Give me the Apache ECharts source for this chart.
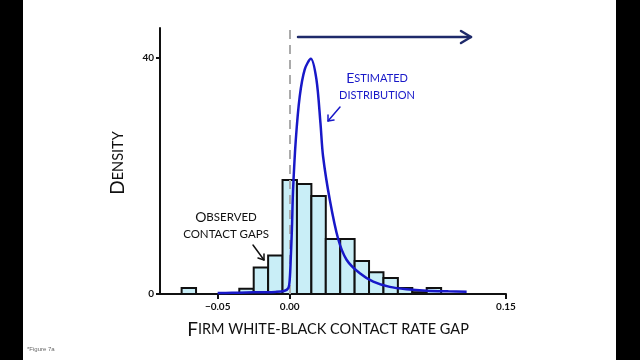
<!DOCTYPE html>
<html>
<head>
<meta charset="utf-8">
<script src="https://cdn.jsdelivr.net/npm/echarts@6/dist/echarts.min.js"></script>
<style>html,body{margin:0;padding:0;background:#fff;}#c{width:640px;height:360px;}</style>
</head>
<body>
<div id="c"></div>
<script>
// Histogram of observed contact gaps (bin centers, bin width 0.01)
var binCenters = [-0.07, -0.03, -0.02, -0.01, 0.00, 0.01, 0.02, 0.03, 0.04, 0.05, 0.06, 0.07, 0.08, 0.09, 0.10];
var binHeights = [1.0, 0.9, 4.5, 6.5, 19.3, 18.6, 16.6, 9.3, 9.3, 5.6, 3.7, 2.7, 1.0, 0.3, 1.0];
var binWidth = 0.01;
// Estimated distribution curve
var curveX = [-0.05, -0.04, -0.03, -0.02, -0.01, -0.004, -0.001, 0.0, 0.0007, 0.0015, 0.0023, 0.0042, 0.0069, 0.0104, 0.0146, 0.0185, 0.0213, 0.0231, 0.0278, 0.0336, 0.0394, 0.0486, 0.0579, 0.0694, 0.081, 0.095, 0.11, 0.1227];
var curveY = [0.15, 0.2, 0.25, 0.3, 0.35, 0.5, 1.0, 2.5, 6, 11, 17.6, 26.1, 33.4, 38, 39.8, 36.3, 28.9, 23.3, 15.9, 9.3, 5.8, 3.5, 2.1, 1.2, 0.8, 0.55, 0.45, 0.4];
var xTicks = [-0.05, 0.00, 0.15];
var yTicks = [0, 40];

var FONT = 'Lato';
var BLUE = '#1818c8';

var histData = binCenters.map(function (c, i) { return [c, binHeights[i]]; });
var curveData = curveX.map(function (x, i) { return [x, curveY[i]]; });

var chart = echarts.init(document.getElementById('c'));

function arrow(pts, color, w) {
  return { type: 'polyline', shape: { points: pts }, style: { stroke: color, lineWidth: w, fill: null, lineCap: 'round', lineJoin: 'round' }, z: 20 };
}

chart.setOption({
  animation: false,
  backgroundColor: '#fff',
  grid: { left: 160, right: 134, top: 28, bottom: 66 },
  xAxis: {
    type: 'value', min: -0.09, max: 0.15,
    axisLine: { show: true, onZero: false, lineStyle: { color: '#111', width: 2 } },
    axisTick: { show: true, customValues: xTicks, length: 5, lineStyle: { color: '#111', width: 2 } },
    axisLabel: { customValues: xTicks, margin: 8, color: '#111', fontFamily: FONT, fontSize: 10, fontWeight: 'bold',
      formatter: function (v) { return v.toFixed(2).replace('-', '\u2212'); } },
    splitLine: { show: false }
  },
  yAxis: {
    type: 'value', min: 0, max: 45,
    axisLine: { show: true, onZero: false, lineStyle: { color: '#111', width: 2 } },
    axisTick: { show: true, customValues: yTicks, length: 4, lineStyle: { color: '#111', width: 2 } },
    axisLabel: { customValues: yTicks, margin: 6, color: '#111', fontFamily: FONT, fontSize: 10, fontWeight: 'bold' },
    splitLine: { show: false }
  },
  series: [
    {
      type: 'custom',
      data: histData,
      z: 2,
      renderItem: function (params, api) {
        var c = api.value(0), h = api.value(1);
        var p0 = api.coord([c - binWidth / 2, h]);
        var p1 = api.coord([c + binWidth / 2, 0]);
        return { type: 'rect', shape: { x: p0[0], y: p0[1], width: p1[0] - p0[0], height: p1[1] - p0[1] },
          style: { fill: '#c9eef7', stroke: '#111', lineWidth: 2 } };
      }
    },
    {
      type: 'line',
      data: curveData,
      smooth: 0.3,
      showSymbol: false,
      z: 5,
      lineStyle: { color: BLUE, width: 2.5 },
      markLine: {
        silent: true, symbol: ['none', 'none'], label: { show: false },
        lineStyle: { color: '#aaa', type: [9, 6], width: 2 },
        data: [{ xAxis: 0 }]
      }
    }
  ],
  graphic: [
    { type: 'rect', shape: { x: 0, y: 0, width: 23, height: 360 }, style: { fill: '#000' }, z: 30 },
    { type: 'rect', shape: { x: 616, y: 0, width: 24, height: 360 }, style: { fill: '#000' }, z: 30 },
    // top arrow
    arrow([[298, 37], [471, 37]], '#1e2a6a', 2.5),
    arrow([[461, 31], [471, 37], [461, 43]], '#1e2a6a', 2.5),
    // estimated distribution arrow
    arrow([[340, 107], [328, 121]], BLUE, 1.5),
    arrow([[328, 115], [328, 121], [334, 120]], BLUE, 1.5),
    // observed contact gaps arrow
    arrow([[253, 245], [264, 260]], '#111', 1.5),
    arrow([[264, 254], [264, 260], [258, 258]], '#111', 1.5),
    {
      type: 'text', z: 20,
      style: { x: 377, y: 70, align: 'center', verticalAlign: 'top', fill: BLUE, fontFamily: FONT,
        text: '{b|E}{s|STIMATED}\n{s|DISTRIBUTION}',
        rich: { b: { fontSize: 14, fontFamily: FONT, fill: BLUE, lineHeight: 17 }, s: { fontSize: 11, fontFamily: FONT, fill: BLUE, lineHeight: 17 } } }
    },
    {
      type: 'text', z: 20,
      style: { x: 226, y: 209, align: 'center', verticalAlign: 'top', fill: '#111', fontFamily: FONT,
        text: '{b|O}{s|BSERVED}\n{s|CONTACT GAPS}',
        rich: { b: { fontSize: 14, fontFamily: FONT, fill: '#111', lineHeight: 17 }, s: { fontSize: 11.5, fontFamily: FONT, fill: '#111', lineHeight: 17 } } }
    },
    {
      type: 'text', z: 20,
      style: { x: 328, y: 320, align: 'center', verticalAlign: 'top', fill: '#111', fontFamily: FONT,
        text: '{b|F}{s|IRM WHITE-BLACK CONTACT RATE GAP}',
        rich: { b: { fontSize: 19, fontFamily: FONT, fill: '#111' }, s: { fontSize: 14.5, fontFamily: FONT, fill: '#111' } } }
    },
    {
      type: 'text', z: 20, x: 118, y: 163, rotation: Math.PI / 2,
      style: { x: 0, y: 0, align: 'center', verticalAlign: 'middle', fill: '#111', fontFamily: FONT,
        text: '{b|D}{s|ENSITY}',
        rich: { b: { fontSize: 19, fontFamily: FONT, fill: '#111' }, s: { fontSize: 14.5, fontFamily: FONT, fill: '#111' } } }
    },
    {
      type: 'text', z: 20,
      style: { x: 27, y: 346, text: '*Figure 7a', fill: '#666', fontFamily: 'Liberation Sans', fontSize: 6 }
    }
  ]
});
</script>
</body>
</html>
